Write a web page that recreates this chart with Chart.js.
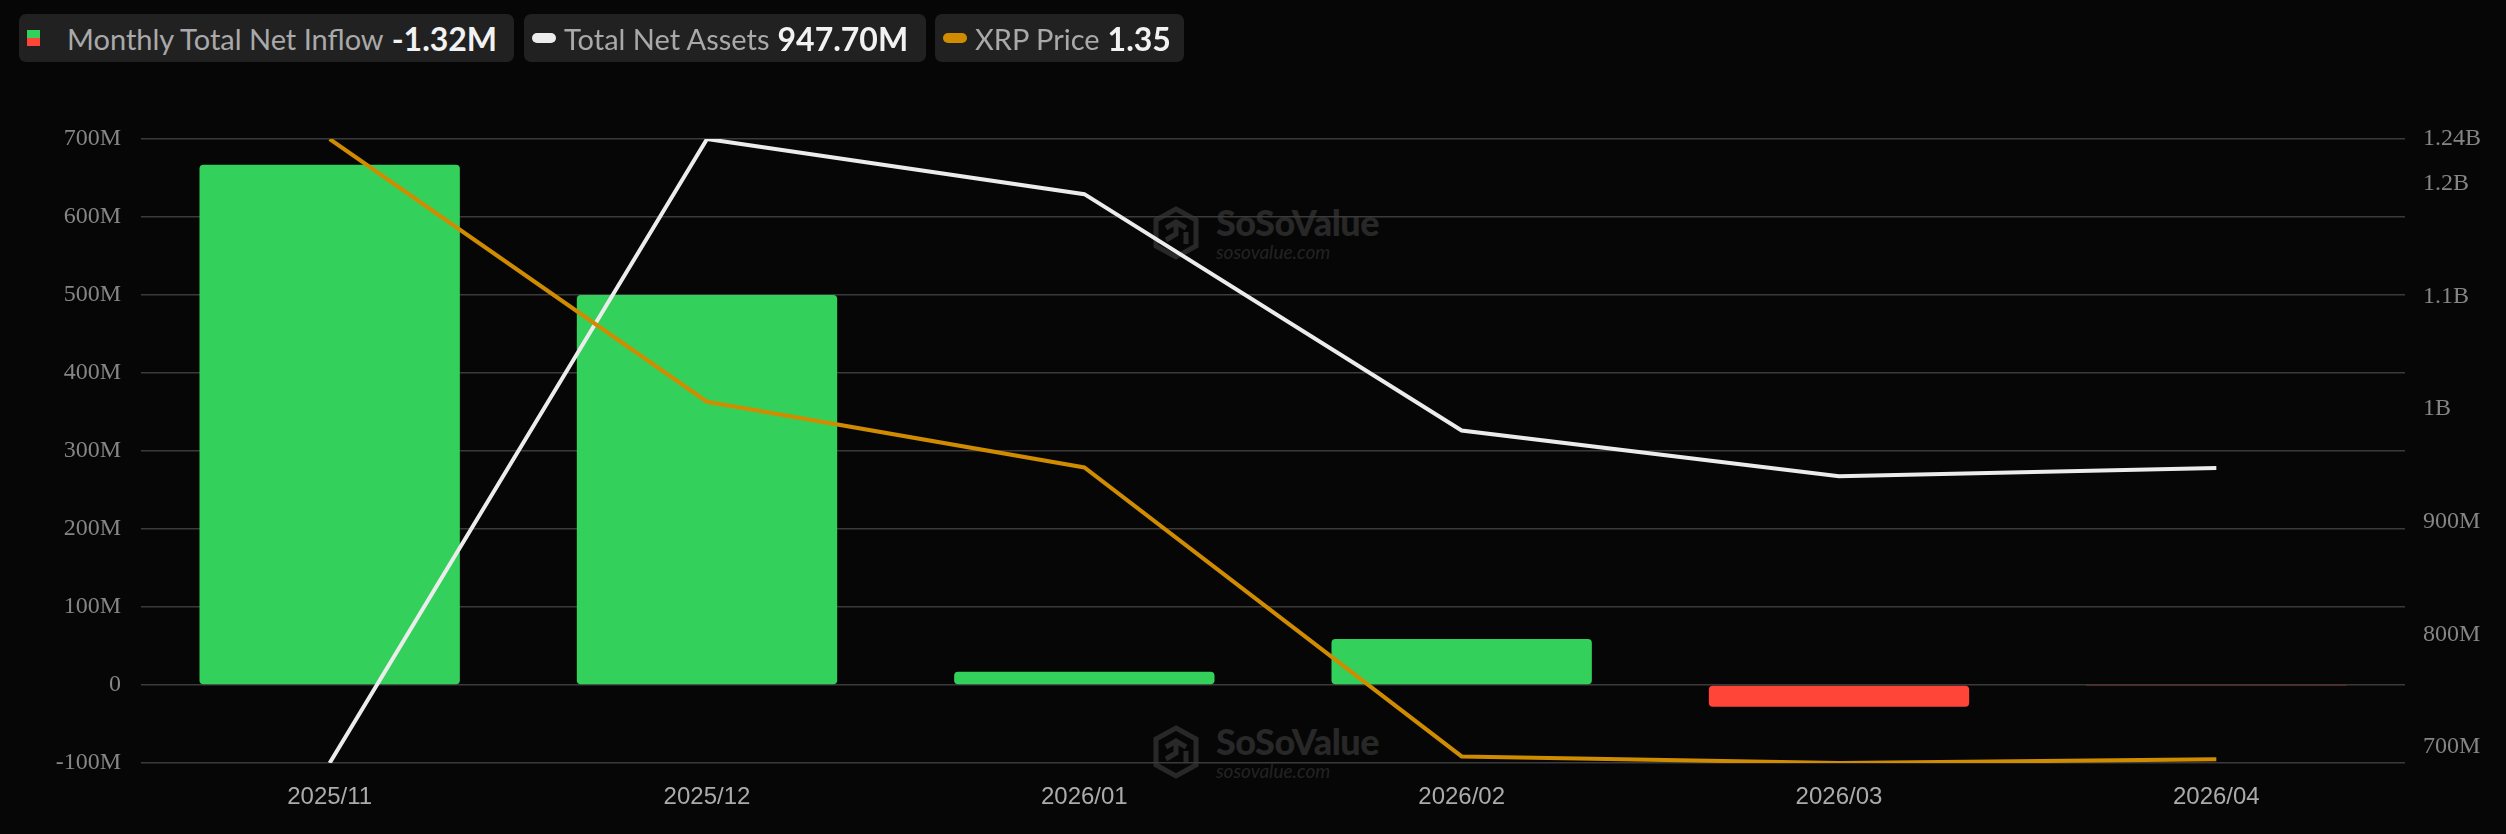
<!DOCTYPE html>
<html>
<head>
<meta charset="utf-8">
<script src="https://cdn.jsdelivr.net/npm/chart.js@4/dist/chart.umd.min.js"></script>
<style>
  html, body { margin: 0; padding: 0; background: #060606; }
  #wrap { position: relative; width: 2506px; height: 834px; overflow: hidden; }
  #chart { position: absolute; left: 0; top: 0; z-index: 2; }
  .legend { position: absolute; top: 14px; height: 48px; background: #212121; border-radius: 7px;
            display: flex; align-items: center; font-family: Lato, "Open Sans", sans-serif; font-size: 29px;
            z-index: 3; box-sizing: border-box; padding: 0 8px; white-space: nowrap; }
  .legend .name { color: #a9a9a9; }
  .legend .val { color: #f2f2f2; font-weight: bold; font-size: 32px; margin-left: 8px; }
  .sq { width: 13px; height: 16px; margin-right: 27px; margin-left: 0px;
        background: linear-gradient(#33d15b 0 50%, #ff4438 50% 100%); }
  .pill { width: 24px; height: 10px; border-radius: 5px; margin-right: 8px; }
  .wm { position: absolute; z-index: 1; font-family: Lato, "Open Sans", sans-serif; }
  .wm .t { position: absolute; left: 64px; top: -6px; font-size: 36px; font-weight: 900; color: #282828; letter-spacing: -0.5px; }
  .wm .u { position: absolute; left: 64px; top: 34px; font-size: 19px; font-style: italic; color: #232323; }
</style>
</head>
<body>
<div id="wrap">
  <div class="legend" style="left:19px; width:495px;">
    <div class="sq"></div><span class="name">Monthly Total Net Inflow</span><span class="val">-1.32M</span>
  </div>
  <div class="legend" style="left:524px; width:402px;">
    <div class="pill" style="background:#ececec"></div><span class="name">Total Net Assets</span><span class="val">947.70M</span>
  </div>
  <div class="legend" style="left:935px; width:249px;">
    <div class="pill" style="background:#d08c00"></div><span class="name">XRP Price</span><span class="val">1.35</span>
  </div>

  <div class="wm" style="left:1152px; top:206px;">
    <svg width="48" height="54" viewBox="0 0 48 54"><path d="M24 3 L44 14 L44 40 L24 51 L4 40 L4 14 Z" fill="none" stroke="#282828" stroke-width="5"/><path d="M14 22 L24 16 L34 22 M24 16 L24 28 L14 34 M34 26 L34 38" fill="none" stroke="#282828" stroke-width="5"/></svg>
    <span class="t">SoSoValue</span><span class="u">sosovalue.com</span>
  </div>
  <div class="wm" style="left:1152px; top:725px;">
    <svg width="48" height="54" viewBox="0 0 48 54"><path d="M24 3 L44 14 L44 40 L24 51 L4 40 L4 14 Z" fill="none" stroke="#282828" stroke-width="5"/><path d="M14 22 L24 16 L34 22 M24 16 L24 28 L14 34 M34 26 L34 38" fill="none" stroke="#282828" stroke-width="5"/></svg>
    <span class="t">SoSoValue</span><span class="u">sosovalue.com</span>
  </div>

  <canvas id="chart" width="2506" height="834"></canvas>
</div>
<script>
// monthly data (millions for flows / assets, USD for price)
const months = ['2025/11', '2025/12', '2026/01', '2026/02', '2026/03', '2026/04'];
const netInflow = [667, 500, 17, 59, -28, -1.32];
const totalNetAssets = [685.7, 1240, 1191, 981, 940.5, 947.7];
const xrpPrice = [2.20, 1.84, 1.75, 1.354, 1.345, 1.35];

const leftTicks = [-100, 0, 100, 200, 300, 400, 500, 600, 700];
const rightTicks = [700, 800, 900, 1000, 1100, 1200, 1240];

const GREEN = '#33d15b';
const RED = '#ff4438';

function fmtM(v) {
  if (v === 0) return '0';
  if (Math.abs(v) >= 1000) return (v / 1000) + 'B';
  return v + 'M';
}

const ctx = document.getElementById('chart').getContext('2d');
new Chart(ctx, {
  data: {
    labels: months,
    datasets: [
      {
        type: 'line',
        label: 'XRP Price',
        data: xrpPrice,
        yAxisID: 'y2',
        borderColor: '#d08c00',
        borderWidth: 4,
        pointRadius: 0,
        tension: 0,
        order: 1
      },
      {
        type: 'line',
        label: 'Total Net Assets',
        data: totalNetAssets,
        yAxisID: 'y1',
        borderColor: '#ececec',
        borderWidth: 4,
        pointRadius: 0,
        tension: 0,
        order: 2
      },
      {
        type: 'bar',
        label: 'Monthly Total Net Inflow',
        data: netInflow,
        yAxisID: 'y',
        backgroundColor: netInflow.map(v => v >= 0 ? GREEN : RED),
        borderRadius: 4,
        borderSkipped: false,
        categoryPercentage: 1,
        barPercentage: 0.69,
        order: 3
      }
    ]
  },
  options: {
    responsive: false,
    animation: false,
    layout: { padding: { top: 139, left: 0, right: 0, bottom: 0 } },
    plugins: {
      legend: { display: false },
      tooltip: { enabled: false }
    },
    scales: {
      x: {
        grid: { display: false },
        border: { display: false },
        ticks: {
          color: '#ababab',
          font: { family: '"Liberation Sans", Arial, sans-serif', size: 24 },
          padding: 12,
          maxRotation: 0
        },
        afterFit: axis => { axis.height = 71; }
      },
      y: {
        position: 'left',
        min: -100,
        max: 700,
        afterBuildTicks: axis => { axis.ticks = leftTicks.map(v => ({ value: v })); },
        grid: { color: '#3a3a3a', lineWidth: 1.5, drawTicks: false },
        border: { display: false },
        ticks: {
          color: '#858585',
          font: { family: '"Liberation Serif", "Times New Roman", serif', size: 24 },
          padding: 20,
          callback: v => fmtM(v)
        },
        afterFit: axis => { axis.width = 141; }
      },
      y1: {
        position: 'right',
        min: 685.7,
        max: 1240,
        afterBuildTicks: axis => { axis.ticks = rightTicks.map(v => ({ value: v })); },
        grid: { display: false, drawTicks: false },
        border: { display: false },
        ticks: {
          color: '#858585',
          font: { family: '"Liberation Serif", "Times New Roman", serif', size: 24 },
          padding: 18,
          callback: v => fmtM(v)
        },
        afterFit: axis => { axis.width = 101; }
      },
      y2: {
        position: 'right',
        display: false,
        min: 1.345,
        max: 2.20
      }
    }
  }
});
</script>
</body>
</html>
